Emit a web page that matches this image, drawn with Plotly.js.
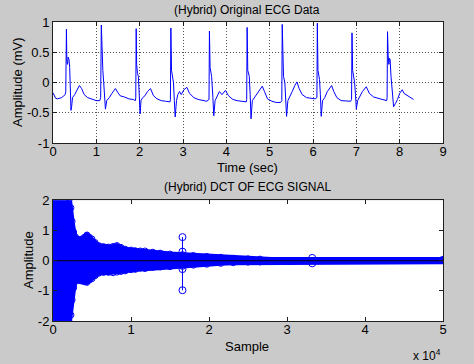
<!DOCTYPE html>
<html>
<head>
<meta charset="utf-8">
<script src="https://cdn.plot.ly/plotly-3.0.1.min.js"></script>
<style>html,body{margin:0;padding:0;background:#cacaca;}#chart{width:474px;height:364px;}</style>
</head>
<body>
<div id="chart"></div>
<script>
// ---- Top plot: ECG signal (time in sec, amplitude in mV) ----
const ecgTime = [0.00,0.03,0.06,0.10,0.15,0.20,0.25,0.28,0.295,0.31,0.32,0.335,0.35,0.37,0.385,0.40,0.415,0.43,0.45,0.50,0.55,0.61,0.66,0.72,0.80,0.90,1.00,1.08,1.10,
1.115,1.125,1.135,1.15,1.17,1.19,1.21,1.24,1.30,1.36,1.44,1.50,1.55,1.65,1.75,1.85,1.90,1.91,
1.92,1.93,1.95,1.97,1.99,2.01,2.03,2.07,2.12,2.18,2.25,2.32,2.40,2.50,2.60,2.70,2.71,
2.72,2.735,2.75,2.78,2.80,2.82,2.85,2.88,2.92,2.96,3.02,3.09,3.15,3.25,3.35,3.45,3.55,3.60,
3.61,3.625,3.64,3.66,3.69,3.71,3.74,3.78,3.84,3.90,3.98,4.05,4.15,4.25,4.35,4.46,4.47,
4.48,4.495,4.51,4.53,4.55,4.57,4.60,4.65,4.72,4.78,4.83,4.88,4.95,5.05,5.15,5.25,5.28,
5.29,5.305,5.32,5.35,5.37,5.39,5.42,5.46,5.52,5.58,5.63,5.68,5.75,5.85,5.95,6.05,6.09,
6.10,6.115,6.13,6.15,6.17,6.19,6.22,6.27,6.33,6.38,6.43,6.48,6.55,6.65,6.75,6.87,6.89,
6.90,6.915,6.93,6.96,6.98,7.00,7.03,7.07,7.14,7.23,7.30,7.40,7.50,7.60,7.70,7.71,
7.72,7.735,7.75,7.765,7.78,7.80,7.83,7.86,7.90,7.95,8.00,8.06,8.10,8.15,8.20,8.25,8.32];
const ecgAmp = [-0.17,-0.22,-0.26,-0.27,-0.26,-0.25,-0.22,-0.20,-0.15,0.88,0.35,0.30,0.42,0.38,0.25,-0.10,-0.46,-0.40,-0.25,-0.20,-0.12,-0.05,-0.10,-0.20,-0.25,-0.27,-0.30,-0.30,-0.25,
0.95,0.70,0.22,0.20,0.00,-0.35,-0.44,-0.30,-0.25,-0.18,-0.10,-0.17,-0.22,-0.24,-0.27,-0.28,-0.30,-0.25,
0.89,0.30,0.15,0.10,-0.20,-0.52,-0.30,-0.25,-0.22,-0.15,-0.10,-0.22,-0.27,-0.30,-0.31,-0.32,-0.28,
0.90,0.20,0.10,0.00,-0.30,-0.57,-0.30,-0.20,-0.15,-0.20,-0.12,-0.08,-0.18,-0.25,-0.28,-0.30,-0.31,-0.28,
0.85,0.25,0.20,0.10,-0.25,-0.55,-0.30,-0.25,-0.15,-0.20,-0.13,-0.22,-0.28,-0.30,-0.31,-0.32,-0.28,
0.91,0.20,0.15,0.10,-0.20,-0.60,-0.30,-0.25,-0.18,-0.10,-0.06,-0.15,-0.27,-0.31,-0.33,-0.33,-0.30,
0.96,0.15,0.10,0.00,-0.25,-0.56,-0.30,-0.25,-0.15,-0.05,0.01,-0.10,-0.20,-0.25,-0.26,-0.27,-0.25,
0.98,0.20,0.15,0.05,-0.20,-0.56,-0.30,-0.25,-0.15,-0.10,-0.05,-0.15,-0.25,-0.30,-0.30,-0.31,-0.28,
0.82,0.20,0.15,0.00,-0.20,-0.44,-0.30,-0.25,-0.15,-0.07,-0.18,-0.24,-0.26,-0.28,-0.30,-0.25,
0.84,0.45,0.30,0.40,0.38,0.10,-0.20,-0.40,-0.35,-0.28,-0.18,-0.12,-0.18,-0.20,-0.23,-0.25,-0.28];

const topXTicks = [0,1,2,3,4,5,6,7,8,9];
const topYTicks = [-1,-0.5,0,0.5,1];
const topYTickText = ['-1','-0.5','0','0.5','1'];

// ---- Bottom plot: DCT coefficients (envelope of the stem cloud) ----
const dctX = [0,400,800,1200,1600,1900,2100,2300,2450,2650,2900,3300,3710,4050,4350,4650,4990,5400,5840,6500,7120,7700,8190,8700,9250,10000,10530,11180,11800,12800,13740,15000,16600,18000,19710,21500,23120,25000,26530,28000,30000,33230,36000,40000,45000,50000];
const dctUpper = [2.1,2.1,2.1,2.1,2.1,2.1,2.05,1.75,1.3,0.95,0.78,0.7,0.72,0.78,0.85,0.78,0.72,0.6,0.5,0.46,0.45,0.47,0.5,0.44,0.38,0.35,0.33,0.32,0.32,0.28,0.25,0.22,0.2,0.17,0.14,0.11,0.08,0.06,0.05,0.04,0.035,0.035,0.035,0.035,0.035,0.035];
const dctLower = [-2.1,-2.1,-2.1,-2.1,-2.1,-2.1,-2.05,-1.8,-1.3,-0.9,-0.66,-0.66,-0.68,-0.70,-0.72,-0.65,-0.6,-0.5,-0.42,-0.39,-0.39,-0.4,-0.38,-0.36,-0.34,-0.3,-0.29,-0.24,-0.26,-0.22,-0.21,-0.2,-0.19,-0.15,-0.12,-0.09,-0.07,-0.05,-0.045,-0.04,-0.035,-0.035,-0.035,-0.035,-0.035,-0.035];
// isolated stems that stand out from the cloud
const spikeX = [16600,16600,16600,16600,33230,33230,50000];
const spikeY = [0.78,0.30,-0.28,-0.98,0.09,-0.09,0.03];

const botXTicks = [0,10000,20000,30000,40000,50000];
const botXTickText = ['0','1','2','3','4','5'];
const botYTicks = [-2,-1,0,1,2];
const botYTickText = ['-2','-1','0','1','2'];

// ---- Layout geometry (pixels) ----
const W = 474, H = 364;
const L = 53, R = 443, T = 22, B = 321;
const pw = R - L, ph = B - T;
const px2x = p => (p - L) / pw;
const px2y = p => 1 - (p - T) / ph;

const BLUE = '#0000ff';
const FONT = 'Liberation Sans, Arial, sans-serif';

const traces = [];
traces.push({x: ecgTime, y: ecgAmp, type: 'scatter', mode: 'lines', line: {color: BLUE, width: 1}, xaxis: 'x', yaxis: 'y', hoverinfo: 'skip'});

// filled envelope of the dense stem cloud
const envX = dctX.concat(dctX.slice().reverse());
const envY = dctUpper.concat(dctLower.slice().reverse());
traces.push({x: envX, y: envY, type: 'scatter', mode: 'lines', fill: 'toself', fillcolor: BLUE, line: {color: BLUE, width: 5}, xaxis: 'x2', yaxis: 'y2', hoverinfo: 'skip'});
// circle markers on the cloud edges (where the cloud is still wide)
const edgeX = [], edgeY = [];
dctX.forEach((v, i) => { if (v < 27000) { edgeX.push(v, v); edgeY.push(dctUpper[i], dctLower[i]); } });
traces.push({x: edgeX, y: edgeY, type: 'scatter', mode: 'markers', marker: {symbol: 'circle-open', size: 6, color: BLUE, line: {width: 1, color: BLUE}}, xaxis: 'x2', yaxis: 'y2', hoverinfo: 'skip'});
// isolated stems
const stemX = [], stemY = [];
spikeX.forEach((v, i) => { stemX.push(v, v, null); stemY.push(0, spikeY[i], null); });
traces.push({x: stemX, y: stemY, type: 'scatter', mode: 'lines', line: {color: BLUE, width: 1}, xaxis: 'x2', yaxis: 'y2', hoverinfo: 'skip'});
traces.push({x: spikeX, y: spikeY, type: 'scatter', mode: 'markers', marker: {symbol: 'circle-open', size: 7, color: BLUE, line: {width: 1, color: BLUE}}, xaxis: 'x2', yaxis: 'y2', hoverinfo: 'skip'});
// baseline
traces.push({x: [botXTicks[0], botXTicks[botXTicks.length - 1]], y: [0, 0], type: 'scatter', mode: 'lines', line: {color: '#000040', width: 1.2}, xaxis: 'x2', yaxis: 'y2', hoverinfo: 'skip'});

const axBase = {
  showline: true, linecolor: '#202020', linewidth: 1, mirror: 'ticks',
  ticks: 'inside', ticklen: 4, tickcolor: '#202020', tickwidth: 1,
  zeroline: false, tickfont: {family: FONT, size: 13, color: '#000'},
  fixedrange: true
};
const gridOn = {showgrid: true, gridcolor: '#555', griddash: '1px,2px', gridwidth: 1};

const layout = {
  width: W, height: H,
  paper_bgcolor: '#cacaca', plot_bgcolor: '#ffffff',
  margin: {l: L, r: W - R, t: T, b: H - B, pad: 0},
  showlegend: false,
  font: {family: FONT, color: '#000'},
  xaxis: Object.assign({}, axBase, gridOn, {domain: [0, 1], range: [0, 9], tickmode: 'array', tickvals: topXTicks, anchor: 'y', ticklabelstandoff: -4}),
  yaxis: Object.assign({}, axBase, gridOn, {domain: [px2y(143), 1], range: [-1, 1], tickmode: 'array', tickvals: topYTicks, ticktext: topYTickText, anchor: 'x'}),
  xaxis2: Object.assign({}, axBase, {showgrid: false, domain: [0, 1], range: [0, 50000], tickmode: 'array', tickvals: botXTicks, ticktext: botXTickText, anchor: 'y2', ticklabelstandoff: -4}),
  yaxis2: Object.assign({}, axBase, {showgrid: false, domain: [0, px2y(200.3)], range: [-2, 2], tickmode: 'array', tickvals: botYTicks, ticktext: botYTickText, anchor: 'x2'}),
  annotations: [
    {text: '(Hybrid) Original ECG Data', xref: 'paper', yref: 'paper', x: px2x(247), y: px2y(10), xanchor: 'center', yanchor: 'middle', showarrow: false, font: {family: FONT, size: 12}},
    {text: 'Time (sec)', xref: 'paper', yref: 'paper', x: px2x(247), y: px2y(167), xanchor: 'center', yanchor: 'middle', showarrow: false, font: {family: FONT, size: 13}},
    {text: 'Amplitude (mV)', xref: 'paper', yref: 'paper', x: px2x(17), y: px2y(82), xanchor: 'center', yanchor: 'middle', textangle: -90, showarrow: false, font: {family: FONT, size: 13}},
    {text: '(Hybrid) DCT OF ECG SIGNAL', xref: 'paper', yref: 'paper', x: px2x(247), y: px2y(187), xanchor: 'center', yanchor: 'middle', showarrow: false, font: {family: FONT, size: 12}},
    {text: 'Amplitude', xref: 'paper', yref: 'paper', x: px2x(28), y: px2y(260), xanchor: 'center', yanchor: 'middle', textangle: -90, showarrow: false, font: {family: FONT, size: 13}},
    {text: 'Sample', xref: 'paper', yref: 'paper', x: px2x(247), y: px2y(346), xanchor: 'center', yanchor: 'middle', showarrow: false, font: {family: FONT, size: 13}},
    {text: 'x 10<sup>4</sup>', xref: 'paper', yref: 'paper', x: px2x(443), y: px2y(355), xanchor: 'right', yanchor: 'middle', showarrow: false, font: {family: FONT, size: 12}}
  ]
};

Plotly.newPlot('chart', traces, layout, {staticPlot: true, displayModeBar: false});
</script>
</body>
</html>
